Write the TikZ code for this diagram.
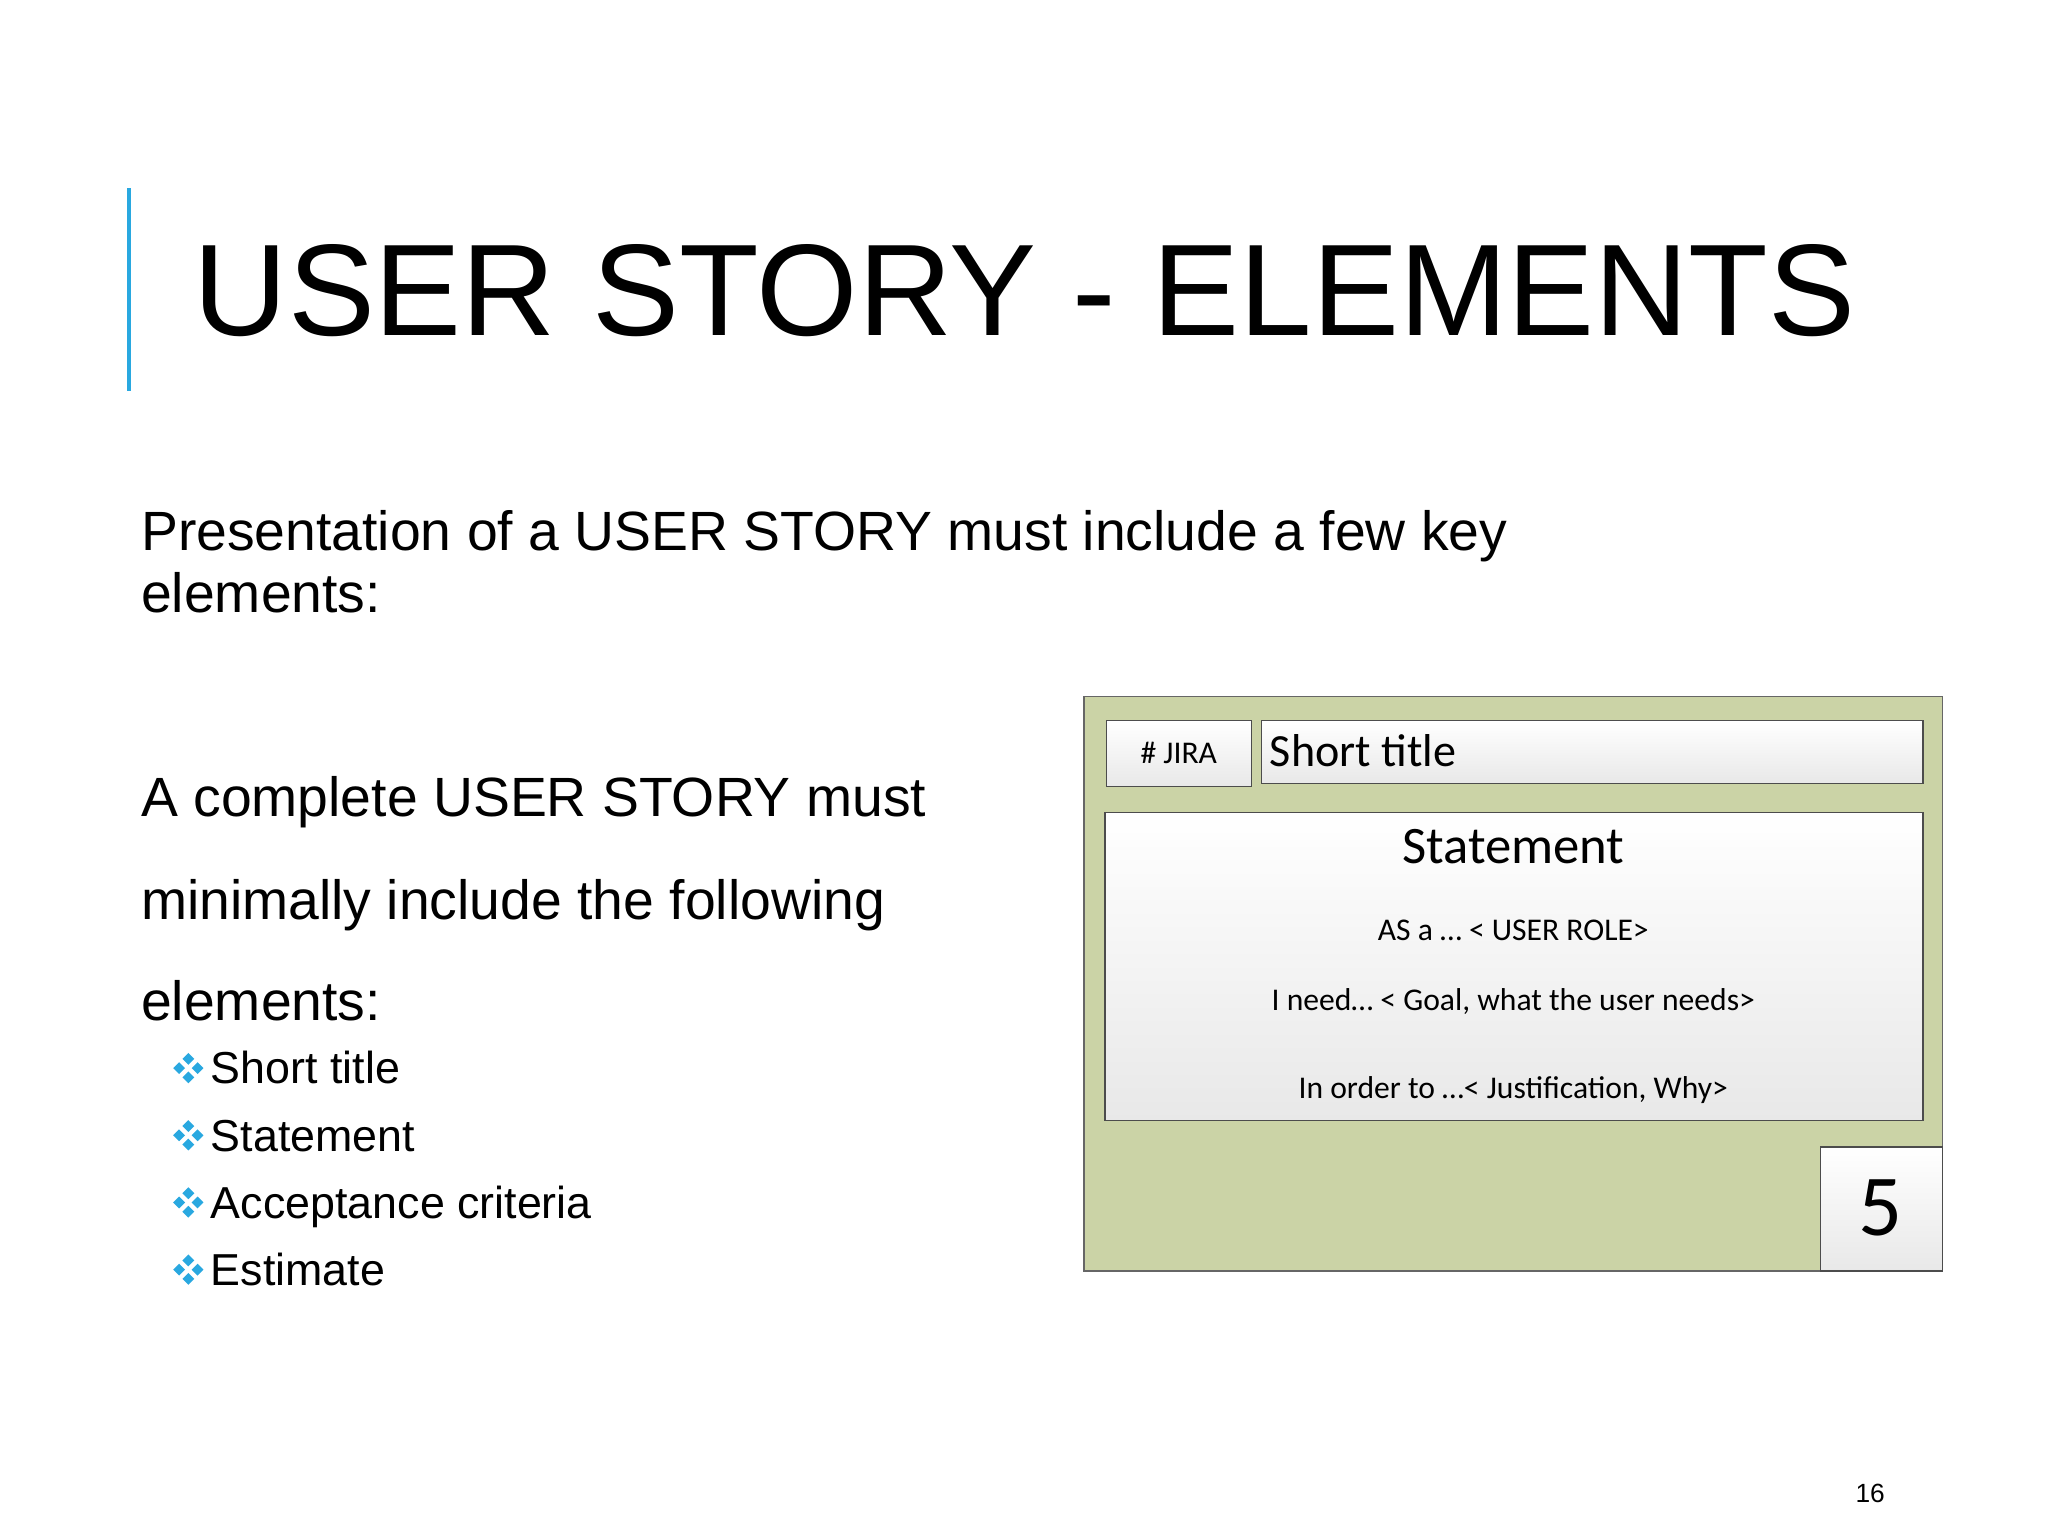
\documentclass[tikz,border=0pt]{standalone}
\usepackage{fontspec}
\usetikzlibrary{calc}
\setmainfont{Liberation Sans}
\newfontfamily\cardfont{Carlito}
\definecolor{accent}{HTML}{29A8E0}
\definecolor{cardgreen}{HTML}{CBD3A6}
\begin{document}
\begin{tikzpicture}[x=1pt,y=-1pt,
  txt/.style={inner sep=0pt,anchor=base west},
  wbox/.style={draw=black!70,line width=1pt,top color=white,bottom color=black!9},
  fs/.style={font=\fontsize{#1}{#1}\selectfont}]
\useasboundingbox (0,0) rectangle (1555,1166);
\fill[white] (0,0) rectangle (1555,1166);
\draw[accent,line width=3pt] (98,143) -- (98,297);
\node[txt,fs=99] (title) at (147,255) {USER STORY - ELEMENTS};
\node[txt,fs=42] (p1) at (107,418) {Presentation of a USER STORY must include a few key};
\node[txt,fs=42] (p2) at (107,465) {elements:};
\node[txt,fs=42] (c1) at (107,620) {A complete USER STORY must};
\node[txt,fs=42] (c2) at (107,698) {minimally include the following};
\node[txt,fs=42] (c3) at (107,775) {elements:};
\foreach \t [count=\i] in {Short title,Statement,Acceptance criteria,Estimate}{
  \pgfmathsetmacro\yy{823+51*(\i-1)}
  \node[txt,fs=34] (b\i) at (160,\yy) {\t};
  \foreach \dx/\dy in {0/-7,-7/0,7/0,0/7}
    \fill[accent] ($(143+\dx,\yy-12+\dy)+(0,-4.5)$) -- ++(4.5,4.5) -- ++(-4.5,4.5) -- ++(-4.5,-4.5) -- cycle;
}
% card
\draw[black!60,fill=cardgreen,line width=1pt] (823,529) rectangle (1475,965);
\draw[wbox] (840,547) rectangle (950,597);
\node[inner sep=0pt,font=\cardfont\fontsize{24}{24}\selectfont] (jira) at (895,572) {\# JIRA};
\draw[wbox] (958,547) rectangle (1460,595);
\node[txt,font=\cardfont\fontsize{35}{35}\selectfont] (st) at (964,582) {Short title};
\draw[wbox] (839,617) rectangle (1460,851);
\node[inner sep=0pt,anchor=base,font=\cardfont\fontsize{40}{40}\selectfont] (stmt) at (1149,656) {Statement};
\node[inner sep=0pt,anchor=base,font=\cardfont\fontsize{24}{24}\selectfont] (l1) at (1149,714) {AS a \dots\ < USER ROLE>};
\node[inner sep=0pt,anchor=base,font=\cardfont\fontsize{24}{24}\selectfont] (l2) at (1149,767) {I need\dots\ < Goal, what the user needs>};
\node[inner sep=0pt,anchor=base,font=\cardfont\fontsize{24}{24}\selectfont] (l3) at (1149,834) {In order to \dots< Justification, Why>};
\draw[wbox] (1382,871) rectangle (1475,965);
\node[inner sep=0pt,font=\cardfont\fontsize{66}{66}\selectfont] (est) at (1428,917) {5};
\node[inner sep=0pt,anchor=base,fs=20] (pg) at (1420,1141) {16};
\end{tikzpicture}
\end{document}
